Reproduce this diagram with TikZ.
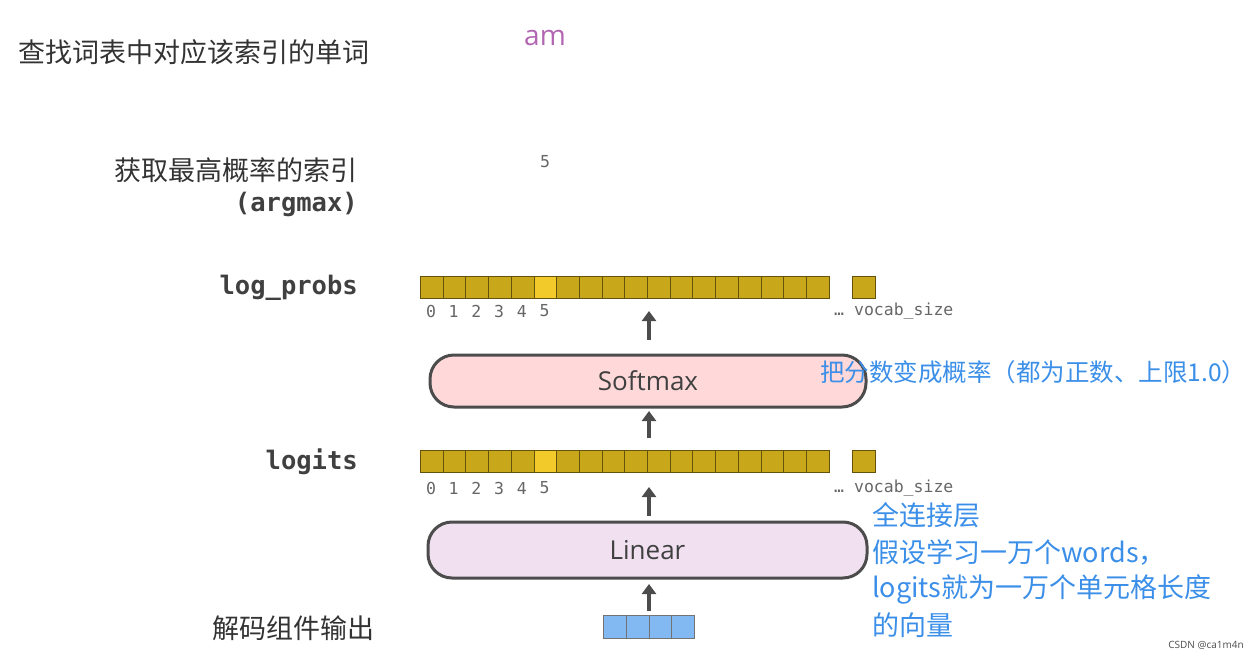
\documentclass[tikz,border=0pt]{standalone}
\usepackage{fontspec}
\setmainfont{Open Sans}
\newfontfamily\cjk{Noto Sans CJK SC}
\newfontfamily\mono{DejaVu Sans Mono}
\begin{document}
\begin{tikzpicture}[x=1pt,y=-1pt,
 cell/.style={draw=black!50!gold,line width=0.6pt,fill=gold,minimum width=22.7pt,minimum height=22pt,inner sep=0pt,anchor=north west},
 bcell/.style={draw=black!55,line width=0.6pt,fill=bluec,minimum width=22.75pt,minimum height=23pt,inner sep=0pt,anchor=north west},
 idx/.style={font=\mono\fontsize{16.5}{16.5}\selectfont,text=black!60,inner sep=0pt},
 lbl/.style={font=\cjk\fontsize{27}{27}\selectfont,text=black!80,inner sep=0pt},
 mlbl/.style={font=\mono\bfseries\fontsize{25.5}{25.5}\selectfont,text=black!75,inner sep=0pt,anchor=east},
 note/.style={font=\cjk\fontsize{27}{27}\selectfont,text=noteblue,inner sep=0pt,anchor=west},
 pill/.style={draw=black!70,line width=3pt,rounded corners=24pt,font=\fontsize{26}{26}\selectfont,text=black!75},
 arr/.style={draw=black!70,line width=3.5pt,-{Triangle[width=14pt,length=10pt]}}]
\definecolor{gold}{HTML}{C9A71A}
\definecolor{hi}{HTML}{F2CB2A}
\definecolor{bluec}{HTML}{82B9F2}
\definecolor{noteblue}{HTML}{3B8FE8}
\useasboundingbox (0,0) rectangle (1258,658);
\usetikzlibrary{arrows.meta}
\node[lbl,anchor=west] (t1) at (18,52) {查找词表中对应该索引的单词};
\node[font=\fontsize{28}{28}\selectfont,text=violet!60,inner sep=0pt] (am) at (545,38) {am};
\node[lbl,anchor=east] (t2) at (358,170) {获取最高概率的索引};
\node[mlbl] (t3) at (358,204) {(argmax)};
\node[idx] (five) at (545,162) {5};
\node[mlbl] (lp) at (358,288) {log\_probs};
\node[mlbl] (lg) at (358,462) {logits};
\node[lbl,anchor=east] (t4) at (375,628) {解码组件输出};
\foreach \r/\y/\ly in {a/276/311,b/450/488}{
 \foreach \i in {0,...,17}{
  \pgfmathsetmacro\xx{420+22.7*\i}
  \ifnum\i=5 \node[cell,fill=hi] (\r\i) at (\xx,\y) {};\else\node[cell] (\r\i) at (\xx,\y) {};\fi
 }
 \node[cell] (\r L) at (852,\y) {};
 \foreach \i in {0,...,5}{\pgfmathsetmacro\xx{431+22.7*\i}\node[idx] at (\xx,\ly) {\i};}
 \node[idx,anchor=west] at (834,\ly) {… vocab\_size};
}
\node[pill,fill=red!15,minimum width=436pt,minimum height=52pt] (sm) at (648,381) {Softmax};
\node[pill,fill=violet!12,minimum width=439pt,minimum height=56pt] (ln) at (647.5,550) {Linear};
\foreach \i in {0,...,3}{\node[bcell] (c\i) at (603+22.75*\i,615) {};}
\coordinate (a1) at (649,340); \coordinate (a1e) at (649,311);
\coordinate (a2) at (649,438); \coordinate (a2e) at (649,411);
\coordinate (a3) at (649,516); \coordinate (a3e) at (649,487);
\coordinate (a4) at (649,611); \coordinate (a4e) at (649,584);
\draw[arr] (a1) -- (a1e);
\draw[arr] (a2) -- (a2e);
\draw[arr] (a3) -- (a3e);
\draw[arr] (a4) -- (a4e);
\node[note,font=\cjk\fontsize{24.5}{24.5}\selectfont] (n1) at (820,372) {把分数变成概率（都为正数、上限1.0）};
\node[note] (n2) at (872,515) {全连接层};
\node[note] (n3) at (872,552) {假设学习一万个words，};
\node[note] (n4) at (872,589) {logits就为一万个单元格长度};
\node[note] (n5) at (872,625) {的向量};
\node[font=\fontsize{10}{10}\selectfont,text=black!70,anchor=east,inner sep=0pt] (csdn) at (1244,645) {CSDN @ca1m4n};
\end{tikzpicture}
\end{document}
